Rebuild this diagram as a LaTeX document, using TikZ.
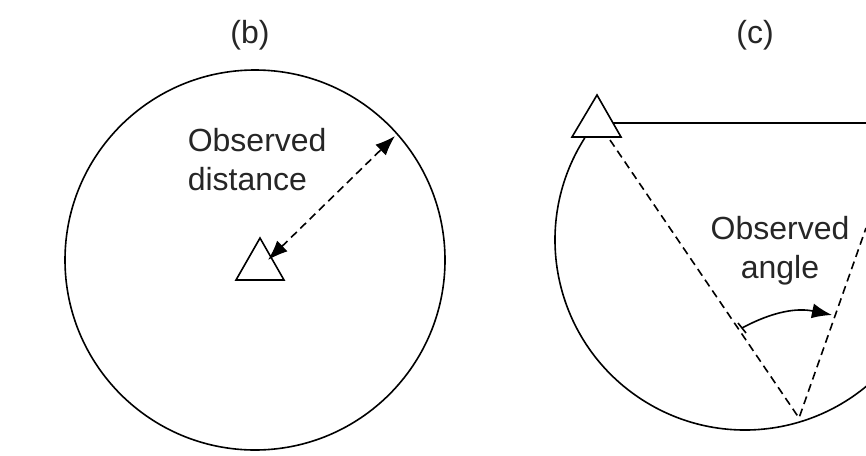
\documentclass[tikz,border=0pt]{standalone}
\usepackage{fontspec}
\setmainfont{Liberation Sans}
\usetikzlibrary{arrows.meta}
\begin{document}
\begin{tikzpicture}[x=1pt,y=-1pt,line width=1.6pt,
  lbl/.style={font=\fontsize{32}{39}\selectfont,text=black!85,align=center,inner sep=0pt},
  dsh/.style={dash pattern=on 8pt off 5pt},
  hd/.tip={Latex[length=20pt,width=15pt]},
  tip/.style={-hd}]
\useasboundingbox (0,0) rectangle (866,455);
\clip (0,0) rectangle (866,455);
% (b)
\node[lbl] (lb) at (250,35) {(b)};
\draw (255,260) circle (190);
\draw (260,238) -- (284,280) -- (236,280) -- cycle;
\coordinate (d1) at (268,260);
\coordinate (d2) at (395,136);
\draw[dsh,hd-hd] (d1) -- (d2);
\node[lbl,align=left,anchor=north west] (od) at (187,128) {Observed\\distance};
% (c)
\node[lbl] (lc) at (755,35) {(c)};
\draw (745,240) ++(212.5:190) arc[start angle=212.5,end angle=-40,radius=190];
\draw[fill=white] (597,95) -- (621,137) -- (572,137) -- cycle;
\draw (613,123) -- (870,123);
\coordinate (t) at (610,140);
\coordinate (p) at (799,418);
\coordinate (q) at (866,228);
\draw[dsh] (t) -- (p) -- (q);
\coordinate (a1) at (742,328);
\coordinate (a2) at (832,315);
\draw (738,323) -- (746,333);
\draw[tip] (a1) to[bend left=20] (a2);
\node[lbl] (oa) at (780,251) {Observed\\angle};
\end{tikzpicture}
\end{document}
